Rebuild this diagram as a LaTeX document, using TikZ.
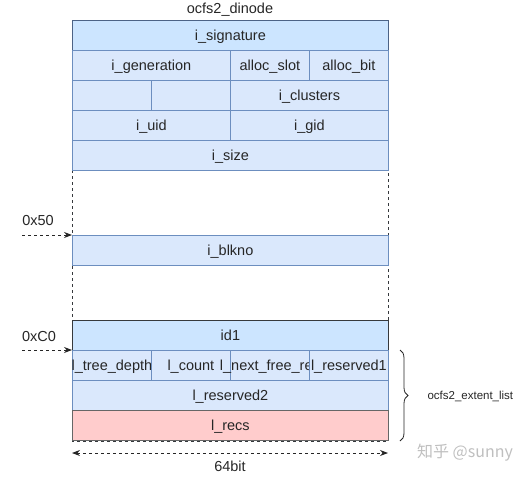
\documentclass[tikz,border=0pt]{standalone}
\usepackage{fontspec}
\setmainfont{Liberation Sans}
\newfontfamily\cjkfont{Noto Sans CJK SC}
\usetikzlibrary{arrows.meta,decorations.pathreplacing}

\definecolor{rowblue}{HTML}{DAE8FC}
\definecolor{headblue}{HTML}{CCE5FF}
\definecolor{rowedge}{HTML}{6C8EBF}
\definecolor{darkedge}{HTML}{36393D}
\definecolor{recred}{HTML}{FFCCCC}

% text that may run over its cell
\newcommand{\overrun}[1]{\makebox[0pt]{#1}}

\tikzset{
  field/.style={draw=rowedge, fill=rowblue, line width=0.8pt, anchor=north west,
    inner sep=0pt, minimum height=30pt, text=black!85, text height=11pt, text depth=0.5pt,
    font=\fontsize{14.5}{17}\selectfont},
  offs/.style={draw=black!85, line width=0.8pt, dash pattern=on 3pt off 3pt,
    -{Stealth[length=8pt,width=6pt]}},
  lbl/.style={text=black!85, font=\fontsize{14.5}{17}\selectfont},
}

\begin{document}
\begin{tikzpicture}[x=1pt,y=-1pt]
\useasboundingbox (0,0) rectangle (528,477);
% dashed frame behind the fields:
\draw[darkedge, line width=0.8pt, dash pattern=on 3pt off 3pt] (72,20) rectangle (388,441);
\node[lbl] (title) at (230,10) {ocfs2\_dinode};
% upper fields:
\node[field, fill=headblue, draw=rowedge!70!black, minimum width=316pt] (sig) at (72,20) {i\_signature};
\node[field, minimum width=158pt] (gen) at (72,50) {i\_generation};
\node[field, minimum width=79pt] (aslot) at (230,50) {alloc\_slot};
\node[field, minimum width=79pt] (abit) at (309,50) {alloc\_bit};
\node[field, minimum width=79pt] (blank1) at (72,80) {};
\node[field, minimum width=79pt] (blank2) at (151,80) {};
\node[field, minimum width=158pt] (clus) at (230,80) {i\_clusters};
\node[field, minimum width=158pt] (uid) at (72,110) {i\_uid};
\node[field, minimum width=158pt] (gid) at (230,110) {i\_gid};
\node[field, minimum width=316pt] (size) at (72,140) {i\_size};
% offset 0x50:
\node[field, minimum width=316pt] (blkno) at (72,235) {i\_blkno};
\node[lbl] (o50) at (38,221) {0x50};
\coordinate (f50) at (22,235);
\draw[offs] (f50) -- (blkno.north west);
% offset 0xC0, extent list:
\node[field, fill=headblue, draw=darkedge, minimum width=316pt] (id1) at (72,320) {id1};
\node[field, minimum width=79pt] (tdepth) at (72,350) {\overrun{l\_tree\_depth}};
\node[field, minimum width=79pt] (lcount) at (151,350) {\overrun{l\_count}};
\node[field, minimum width=79pt] (nfree) at (230,350) {\overrun{l\_next\_free\_rec}};
\node[field, minimum width=79pt] (resv1) at (309,350) {\overrun{l\_reserved1}};
\node[field, minimum width=316pt] (resv2) at (72,380) {l\_reserved2};
\node[field, fill=recred, draw=black!60, minimum width=316pt] (recs) at (72,410) {l\_recs};
\node[lbl] (oC0) at (39,337) {0xC0};
\coordinate (fC0) at (22,350);
\draw[offs] (fC0) -- (tdepth.north west);
% brace
\coordinate (brtop) at (400,350);
\coordinate (brbot) at (400,441);
\draw[black!85, line width=0.8pt, decorate, decoration={brace, amplitude=8pt}] (brtop) -- (brbot);
\node[anchor=west, text=black!85, font=\fontsize{11.5}{13}\selectfont] (extlist) at (424,396) {ocfs2\_extent\_list};
% width
\coordinate (wl) at (72,453);
\coordinate (wr) at (388,453);
\draw[offs, {Stealth[length=8pt,width=6pt]}-{Stealth[length=8pt,width=6pt]}] (wl) -- (wr);
\node[lbl] (width) at (230,466) {64bit};
% watermark
\node[text=black!25, font=\cjkfont\fontsize{16}{18}\selectfont] (mark) at (465,453) {知乎 @sunny};
\end{tikzpicture}
\end{document}
